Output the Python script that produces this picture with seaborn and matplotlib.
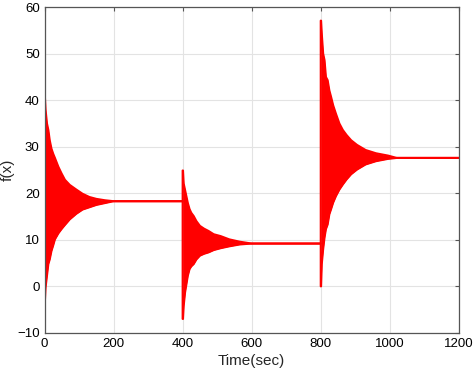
import numpy as np
import pandas as pd
import matplotlib
matplotlib.use("Agg")
import matplotlib.pyplot as plt
import seaborn as sns

# Envelope của dao động, mỗi đoạn bắt đầu ở t0
seg_start = [0, 400, 800]
seg_end = [400, 800, 1200]
settled = [18.3, 9.2, 27.6]

t_off_1 = [0, 1, 3, 7, 11, 15, 20, 25, 30, 40, 49, 59, 73, 92, 110, 130, 150, 175, 200]
upper_1 = [41, 40.7, 37.9, 35, 33.6, 31.4, 29.6, 28.5, 27.6, 25.7, 24.3, 22.9, 21.8, 20.8, 19.9, 19.2, 18.8, 18.5, 18.3]
lower_1 = [-3.1, -3.1, -0.2, 2.3, 4.8, 5.8, 7.6, 8.8, 10.1, 11.4, 12.3, 13.2, 14.4, 15.6, 16.5, 17.0, 17.5, 17.9, 18.3]

t_off_2 = [0, 1, 3, 7, 11, 15, 20, 25, 32, 40, 50, 62, 75, 90, 110, 135, 165, 200]
upper_2 = [24.9, 24.9, 22.1, 20.7, 19.3, 17.9, 16.6, 15.8, 15.1, 14, 13, 12.4, 11.9, 11.2, 10.8, 10.1, 9.6, 9.2]
lower_2 = [-7, -7, -4.2, -1.3, 0.5, 2.3, 3.7, 4.3, 4.8, 5.8, 6.6, 7, 7.3, 7.8, 8.2, 8.6, 9.0, 9.2]

t_off_3 = [0, 1, 3, 7, 11, 15, 20, 25, 30, 36, 44, 54, 64, 75, 88, 105, 130, 160, 195, 220]
upper_3 = [57.1, 57.1, 54.3, 50, 48.6, 45, 44.3, 42.1, 40.7, 38.9, 37.1, 35, 33.6, 32.5, 31.4, 30.4, 29.3, 28.6, 28.1, 27.6]
lower_3 = [0, 0, 4.8, 8, 10.5, 12.3, 13.3, 15.5, 16.6, 18, 19.4, 20.8, 21.9, 23, 24.1, 25.1, 26.2, 26.9, 27.4, 27.6]

x_ticks = [0, 200, 400, 600, 800, 1000, 1200]
y_ticks = [-10, 0, 10, 20, 30, 40, 50, 60]

# Gộp dữ liệu thành một bảng
rows = []
for t0, t1, s, offs, up, lo in zip(seg_start, seg_end, settled,
                                   [t_off_1, t_off_2, t_off_3],
                                   [upper_1, upper_2, upper_3],
                                   [lower_1, lower_2, lower_3]):
    for o, u, l in zip(offs, up, lo):
        rows.append((t0 + o, u, l))
    rows.append((t1, s, s))
df = pd.DataFrame(rows, columns=["t", "upper", "lower"])

sns.set_style("white")
plt.rcParams['font.family'] = ['Liberation Sans', 'DejaVu Sans']

fig = plt.figure(figsize=(4.74, 3.77), dpi=100)
ax = fig.add_axes([0.094, 0.117, 0.874, 0.864])

ax.fill_between(df["t"], df["lower"], df["upper"], color="red", linewidth=0)
sns.lineplot(data=df, x="t", y="upper", ax=ax, color="red", lw=1.5,
             estimator=None, sort=False)
sns.lineplot(data=df, x="t", y="lower", ax=ax, color="red", lw=1.5,
             estimator=None, sort=False)

ax.set_xlim(0, 1200)
ax.set_ylim(-10, 60)
ax.set_xticks(x_ticks)
ax.set_yticks(y_ticks)
ax.grid(True, color="#e3e3e3", linewidth=0.8)
ax.set_axisbelow(True)
for sp in ax.spines.values():
    sp.set_visible(True)
    sp.set_color("#555555")
    sp.set_linewidth(0.9)
ax.tick_params(direction="in", length=3, width=0.8, color="#555555",
               top=True, right=True, labelsize=9.5, labelcolor="black")
ax.set_xlabel("Time(sec)", fontsize=11, labelpad=3)
ax.set_ylabel("f(x)", fontsize=11, labelpad=2)

fig.savefig("out.png", dpi=100)
plt.close()
